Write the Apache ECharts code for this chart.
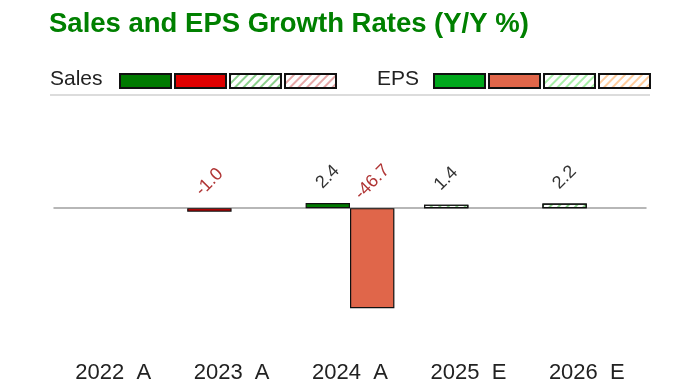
<!DOCTYPE html>
<html><head><meta charset="utf-8">
<script src="https://cdn.jsdelivr.net/npm/echarts@6/dist/echarts.min.js"></script>
<style>html,body{margin:0;padding:0;background:#fff}#c{width:700px;height:387px}</style>
</head><body><div id="c"></div>
<script>
var categories = ['2022  A', '2023  A', '2024  A', '2025  E', '2026  E'];
var salesGrowth = [null, -1.0, 2.4, 1.4, 2.2];
var epsGrowth = [null, null, -46.7, null, null];
var isEstimate = [false, false, false, true, true];

var FONT = 'Liberation Sans, Arial, sans-serif';

function pick(values, estimate, positive) {
  return values.map(function (v, i) {
    if (v === null) return '-';
    if (isEstimate[i] !== estimate) return '-';
    if ((v >= 0) !== positive) return '-';
    return v;
  });
}
function hatch(color) {
  return { symbol: 'rect', dashArrayX: [1, 0], dashArrayY: [2, 4], rotation: -Math.PI / 4, color: color, symbolSize: 1 };
}
var labelCfg = {
  show: true, position: 'top', distance: 26, rotate: 45, align: 'center', verticalAlign: 'middle',
  fontFamily: FONT, fontSize: 18,
  formatter: function (p) { return Number(p.value).toFixed(1); },
  color: '#333'
};
function mk(name, stack, values, est, pos, style) {
  var lbl = Object.assign({}, labelCfg, { color: pos ? '#333' : '#b03535' });
  return {
    name: name, type: 'bar', stack: stack, barWidth: '37.5%', barGap: '0%', barMinHeight: 3.5,
    data: pick(values, est, pos),
    itemStyle: Object.assign({ borderColor: '#111', borderWidth: 1.2 }, style),
    label: lbl, silent: true, animation: false
  };
}
var series = [
  mk('Sales A+', 'sales', salesGrowth, false, true, { color: '#007a00' }),
  mk('Sales A-', 'sales', salesGrowth, false, false, { color: '#e00000' }),
  mk('Sales E+', 'sales', salesGrowth, true, true, { color: '#ffffff', decal: hatch('rgba(0,150,0,0.45)') }),
  mk('Sales E-', 'sales', salesGrowth, true, false, { color: '#ffffff', decal: hatch('rgba(200,60,60,0.45)') }),
  mk('EPS A+', 'eps', epsGrowth, false, true, { color: '#00a81c' }),
  mk('EPS A-', 'eps', epsGrowth, false, false, { color: '#e0664a' }),
  mk('EPS E+', 'eps', epsGrowth, true, true, { color: '#ffffff', decal: hatch('rgba(60,220,60,0.45)') }),
  mk('EPS E-', 'eps', epsGrowth, true, false, { color: '#ffffff', decal: hatch('rgba(255,170,90,0.6)') })
];

var chart = echarts.init(document.getElementById('c'), null, { renderer: 'canvas' });
var legendBase = {
  orient: 'horizontal', top: 73, itemWidth: 51, itemHeight: 14, itemGap: 2,
  icon: 'rect', selectedMode: false, formatter: function () { return ''; },
  textStyle: { fontSize: 1, padding: 0 }, padding: 0
};
chart.setOption({
  animation: false,
  backgroundColor: '#fff',
  title: [
    { text: 'Sales and EPS Growth Rates (Y/Y %)', left: 49, top: 10, padding: 0,
      textStyle: { color: '#008000', fontSize: 27.5, fontWeight: 'bold', fontFamily: FONT } },
    { text: 'Sales', left: 50, top: 69, padding: 0,
      textStyle: { color: '#222', fontSize: 21, fontWeight: 'normal', fontFamily: FONT } },
    { text: 'EPS', left: 377, top: 69, padding: 0,
      textStyle: { color: '#222', fontSize: 21, fontWeight: 'normal', fontFamily: FONT } }
  ],
  legend: [
    Object.assign({}, legendBase, { left: 119, data: ['Sales A+', 'Sales A-', 'Sales E+', 'Sales E-'] }),
    Object.assign({}, legendBase, { left: 433, data: ['EPS A+', 'EPS A-', 'EPS E+', 'EPS E-'] })
  ],
  graphic: [
    { type: 'line', shape: { x1: 50, y1: 95, x2: 650, y2: 95 }, style: { stroke: '#d0d0d0', lineWidth: 1.5 }, silent: true, z: 0 }
  ],
  grid: { left: 54, right: 54, top: 101, bottom: 61 },
  xAxis: [{
    type: 'category', data: categories,
    axisLine: { show: false, onZero: false }, axisTick: { show: false },
    axisLabel: { margin: 36, fontSize: 22, color: '#222', fontFamily: FONT }
  }, {
    type: 'category', data: categories, position: 'bottom',
    axisLine: { show: true, onZero: true, lineStyle: { color: '#a0a0a0', width: 1.5 } },
    axisTick: { show: false }, axisLabel: { show: false }
  }],
  yAxis: { type: 'value', min: -55, max: 50, show: false, splitLine: { show: false } },
  series: series
});
</script></body></html>
